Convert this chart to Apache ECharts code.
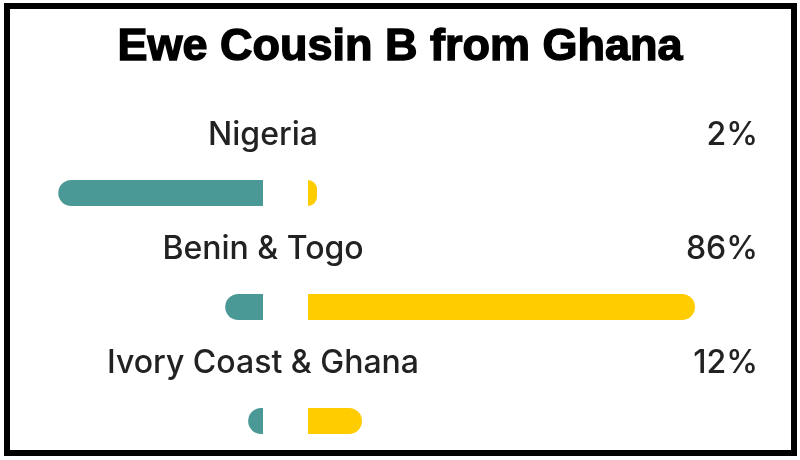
<!DOCTYPE html>
<html>
<head>
<meta charset="utf-8">
<script src="https://cdn.jsdelivr.net/npm/echarts@6/dist/echarts.min.js"></script>
<style>
html,body{margin:0;padding:0;background:#fff;}
#chart{width:800px;height:460px;}
</style>
</head>
<body>
<div id="chart"></div>
<script>
const titleText = 'Ewe Cousin B from Ghana';
const categories = ['Nigeria', 'Benin & Togo', 'Ivory Coast & Ghana'];
const tealValues = [45.5, 8.4, 3.3];
const yellowValues = [2, 86, 12];

const TEAL = '#4b9997';
const YELLOW = '#ffcc00';
const TEXT = '#222222';
const labelFont = 'Inter';

const chart = echarts.init(document.getElementById('chart'), null, {renderer: 'canvas'});

const rowLabel = {
  show: true,
  color: TEXT,
  fontFamily: labelFont,
  fontSize: 32,
  fontWeight: 500,
  verticalAlign: 'bottom',
  padding: [0, 0, 42, 0],
  margin: 0
};

chart.setOption({
  animation: false,
  backgroundColor: '#ffffff',
  title: {
    text: titleText,
    left: 'center',
    top: 20,
    textStyle: {
      fontFamily: 'Liberation Sans',
      fontWeight: 'bold',
      fontSize: 45,
      color: '#000',
      textBorderColor: '#000',
      textBorderWidth: 1.4
    }
  },
  graphic: [{
    type: 'rect',
    shape: {x: 7, y: 6, width: 787, height: 447},
    style: {fill: 'none', stroke: '#000', lineWidth: 6},
    silent: true,
    z: 100
  }],
  grid: [
    {left: 38, width: 225, top: 193, height: 228},
    {left: 308, width: 450, top: 193, height: 228}
  ],
  xAxis: [
    {gridIndex: 0, type: 'value', min: 0, max: 50, inverse: true, show: false},
    {gridIndex: 1, type: 'value', min: 0, max: 100, show: false}
  ],
  yAxis: [
    {
      gridIndex: 0, type: 'category', data: categories, inverse: true,
      boundaryGap: false,
      position: 'right',
      axisLine: {show: false}, axisTick: {show: false}, splitLine: {show: false},
      axisLabel: Object.assign({}, rowLabel, {align: 'center', interval: 0})
    },
    {
      gridIndex: 1, type: 'category', data: categories, inverse: true,
      boundaryGap: false,
      position: 'right',
      axisLine: {show: false}, axisTick: {show: false}, splitLine: {show: false},
      axisLabel: Object.assign({}, rowLabel, {
        align: 'right',
        interval: 0,
        formatter: function (v, i) { return yellowValues[i] + '%'; }
      })
    }
  ],
  series: [
    {
      type: 'bar', xAxisIndex: 0, yAxisIndex: 0, data: tealValues,
      barWidth: 26,
      itemStyle: {color: TEAL, borderRadius: [13, 0, 0, 13]}
    },
    {
      type: 'bar', xAxisIndex: 1, yAxisIndex: 1, data: yellowValues,
      barWidth: 26,
      itemStyle: {color: YELLOW, borderRadius: [0, 13, 13, 0]}
    }
  ]
});
</script>
</body>
</html>
